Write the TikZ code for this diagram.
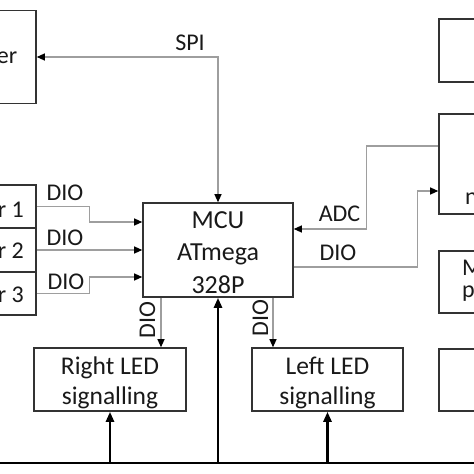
\documentclass[tikz,border=0pt]{standalone}
\usepackage{fontspec}
\setmainfont{Carlito}
\usetikzlibrary{arrows.meta,calc}
\begin{document}
\begin{tikzpicture}[x=1pt,y=-1pt,
  box/.style={draw=black!80, line width=1.6pt, inner sep=0pt, rectangle},
  conn/.style={draw=black!38, line width=1.2pt},
  tip/.style={-{Triangle[length=8pt,width=7pt,color=black,fill=black]}},
  tipboth/.style={{Triangle[length=8pt,width=7pt,color=black,fill=black]}-{Triangle[length=8pt,width=7pt,color=black,fill=black]}},
  bus/.style={draw=black, line width=2.8pt},
  bustip/.style={-{Triangle[length=10pt,width=8pt]}},
  lbl/.style={font=\fontsize{24}{29}\selectfont, inner sep=0pt, text=black!90},
  boxtext/.style={align=center, text=black!90}
]
\useasboundingbox (0,0) rectangle (474,474);
\begin{scope}
\clip (0,0) rectangle (474,474);
% boxes
\node[box, minimum width=96pt, minimum height=93pt] (disp) at (-12,57) {};
\node[box, minimum width=96pt, minimum height=43pt] (s1) at (-12,206.5) {};
\node[box, minimum width=96pt, minimum height=44pt] (s2) at (-12,250) {};
\node[box, minimum width=96pt, minimum height=43pt] (s3) at (-12,293.5) {};
\node[box, boxtext, minimum width=150pt, minimum height=94pt,
      font=\fontsize{26}{32.5}\selectfont] (mcu) at (218,250) {\rule{0pt}{22pt}MCU\\ATmega\\328P};
\node[box, boxtext, minimum width=152pt, minimum height=63pt,
      font=\fontsize{25.5}{30}\selectfont] (rled) at (110,379.5) {\rule{0pt}{24pt}Right LED\\signalling};
\node[box, boxtext, minimum width=151pt, minimum height=63pt,
      font=\fontsize{25.5}{30}\selectfont] (lled) at (327.5,379.5) {\rule{0pt}{24pt}Left LED\\signalling};
\node[box, minimum width=121pt, minimum height=63pt] (rA) at (499.5,50.5) {};
\node[box, minimum width=121pt, minimum height=100pt] (rB) at (499.5,164) {};
\node[box, minimum width=121pt, minimum height=62pt] (rC) at (499.5,282) {};
\node[box, minimum width=121pt, minimum height=62pt] (rD) at (499.5,380) {};
% partial texts
\node[lbl, anchor=east] (tdisp) at (17.5,57.5) {er};
\node[lbl, anchor=east] (ts1) at (24,210) {r 1};
\node[lbl, anchor=east] (ts2) at (24,250.5) {r 2};
\node[lbl, anchor=east] (ts3) at (24,294.5) {r 3};
\node[lbl, anchor=west] (tB) at (465,199) {n};
\node[lbl, anchor=north west, align=left, font=\fontsize{24}{22}\selectfont] (tC) at (462,259.5) {M\\p};
% thin connectors
\draw[conn, tipboth] (mcu.north) |- (disp.east);
\draw[conn, tip] (s1.east) -- ++(53,0) |- ($(mcu.west)+(0,-28)$);
\draw[conn, tip] (s2.east) -- (mcu.west);
\draw[conn, tip] (s3.east) -- ++(53,0) |- ($(mcu.west)+(0,27)$);
\draw[conn, tip] ($(rB.west)+(0,-18)$) -- ++(-72,0) |- ($(mcu.east)+(0,-21)$);
\draw[conn, tip] ($(mcu.east)+(0,17)$) -- ++(124,0) |- ($(rB.west)+(0,27)$);
\coordinate (d1) at ($(mcu.south)+(-57,0)$);
\coordinate (d2) at ($(mcu.south)+(55,0)$);
\draw[conn, tip] (d1) -- (d1 |- rled.north);
\draw[conn, tip] (d2) -- (d2 |- lled.north);
% labels
\node[lbl] (lspi) at (190,43) {SPI};
\node[lbl] (ld1) at (65,192.5) {DIO};
\node[lbl] (ld2) at (65,237.5) {DIO};
\node[lbl] (ld3) at (66,281.5) {DIO};
\node[lbl] (ladc) at (339.5,213.5) {ADC};
\node[lbl] (ldr) at (338,252.5) {DIO};
\node[lbl, rotate=90] (lv1) at (147.5,320) {DIO};
\node[lbl, rotate=90] (lv2) at (260.5,318) {DIO};
% bus
\coordinate (busL) at (-10,463);
\coordinate (busR) at (484,463);
\draw[bus] (busL) -- (busR);
\draw[bus, bustip] (mcu.south |- busL) -- (mcu.south);
\draw[bus, bustip] (rled.south |- busL) -- (rled.south);
\draw[bus, bustip] (lled.south |- busL) -- (lled.south);
\end{scope}
\end{tikzpicture}
\end{document}
